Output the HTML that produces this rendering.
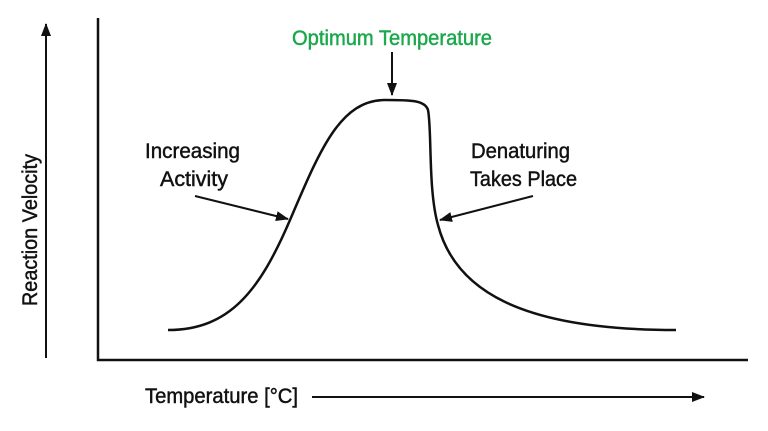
<!DOCTYPE html>
<html><head><meta charset="utf-8"><style>
html,body{margin:0;padding:0;background:#fff;}
svg{display:block;}
text{font-family:"Liberation Sans Narrow","Liberation Sans",sans-serif;font-size:21px;fill:#111;stroke:#111;stroke-width:0.45;}
</style></head><body>
<svg width="768" height="431" viewBox="0 0 768 431" xmlns="http://www.w3.org/2000/svg">
<defs>
<marker id="ah" markerWidth="14" markerHeight="12" refX="12" refY="6" orient="auto" markerUnits="userSpaceOnUse">
<path d="M0,1 L13,6 L0,11 Z" fill="#111"/>
</marker>
</defs>
<path d="M98,18 L98,360 L748,360" fill="none" stroke="#111" stroke-width="2.5"/>
<line x1="46" y1="358" x2="46" y2="24" stroke="#111" stroke-width="2" marker-end="url(#ah)"/>
<text transform="translate(37,230) rotate(-90)" text-anchor="middle" textLength="152" lengthAdjust="spacingAndGlyphs">Reaction Velocity</text>
<text x="145" y="403" textLength="153" lengthAdjust="spacingAndGlyphs">Temperature [°C]</text>
<line x1="312" y1="397" x2="704" y2="397" stroke="#111" stroke-width="2" marker-end="url(#ah)"/>
<path d="M168,330 C230,330 260,290 290,220 C320,150 340,100 385,100 C410,100 425,100 428,110 C432,130 428,190 438,225 C455,290 520,330 676,330" fill="none" stroke="#111" stroke-width="2.5"/>
<text x="292" y="45" textLength="200" lengthAdjust="spacingAndGlyphs" style="fill:#1aa84b;stroke:#1aa84b">Optimum Temperature</text>
<line x1="392" y1="52" x2="392" y2="95" stroke="#111" stroke-width="2" marker-end="url(#ah)"/>
<text x="145" y="158" textLength="95" lengthAdjust="spacingAndGlyphs">Increasing</text>
<text x="160" y="186" textLength="68" lengthAdjust="spacingAndGlyphs">Activity</text>
<line x1="195" y1="196" x2="288" y2="219" stroke="#111" stroke-width="2" marker-end="url(#ah)"/>
<text x="471" y="158" textLength="99" lengthAdjust="spacingAndGlyphs">Denaturing</text>
<text x="470" y="186" textLength="107" lengthAdjust="spacingAndGlyphs">Takes Place</text>
<line x1="533" y1="196" x2="440" y2="220" stroke="#111" stroke-width="2" marker-end="url(#ah)"/>
</svg>
</body></html>
